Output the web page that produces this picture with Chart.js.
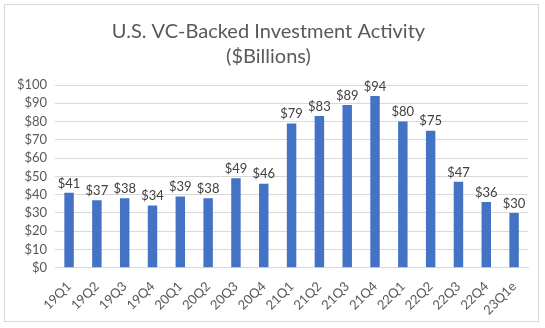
<!DOCTYPE html>
<html>
<head>
<meta charset="utf-8">
<script src="https://cdn.jsdelivr.net/npm/chart.js@4"></script>
<style>
  html, body { margin: 0; padding: 0; background: #ffffff; }
  #wrap {
    position: absolute; left: 4px; top: 4px; width: 535px; height: 318px;
    border: 1px solid #d9d9d9; box-sizing: border-box; background: #fff;
  }
  canvas { display: block; }
</style>
</head>
<body>
<div id="wrap"><canvas id="vc_chart" width="533" height="316"></canvas></div>
<script>
// quarters and totals (US$ billions)
const quarters = ['19Q1', '19Q2', '19Q3', '19Q4', '20Q1', '20Q2', '20Q3', '20Q4',
    '21Q1', '21Q2', '21Q3', '21Q4', '22Q1', '22Q2', '22Q3', '22Q4', '23Q1e'];
const investment = [41, 37, 38, 34, 39, 38, 49, 46, 79, 83, 89, 94, 80, 75, 47, 36, 30];
const titleLines = ['U.S. VC-Backed Investment Activity', '($Billions)'];

const fontName = "Lato, 'Open Sans', sans-serif";

// draws the "$41" style labels over every bar
const valueLabels = {
    id: 'valueLabels',
    afterDatasetsDraw(chart) {
        const ctx = chart.ctx;
        const meta = chart.getDatasetMeta(0);
        ctx.save();
        ctx.font = '13px ' + fontName;
        ctx.fillStyle = '#404040';
        ctx.textAlign = 'center';
        ctx.textBaseline = 'bottom';
        meta.data.forEach((bar, i) => {
            ctx.fillText('$' + investment[i], bar.x, bar.y - 3);
        });
        ctx.restore();
    }
};

new Chart(document.getElementById('vc_chart').getContext('2d'), {
    type: 'bar',
    data: {
        labels: quarters,
        datasets: [{
            label: 'Investment',
            data: investment,
            backgroundColor: '#4472c4',
            borderWidth: 0,
            barPercentage: 0.34,
            categoryPercentage: 1.0
        }]
    },
    options: {
        responsive: false,
        animation: false,
        layout: { padding: { left: 4, right: 10, top: 10, bottom: 0 } },
        plugins: {
            legend: { display: false },
            tooltip: { enabled: false },
            title: {
                display: true,
                text: titleLines,
                color: '#595959',
                font: { family: fontName, size: 20, weight: 'normal', lineHeight: 1.25 },
                padding: { top: 4, bottom: 16 }
            }
        },
        scales: {
            x: {
                grid: { display: false },
                border: { color: '#d9d9d9' },
                ticks: {
                    color: '#595959',
                    font: { family: fontName, size: 13 },
                    maxRotation: 45, minRotation: 45,
                    autoSkip: false
                }
            },
            y: {
                min: 0, max: 100,
                grid: { color: '#d9d9d9', drawTicks: false },
                border: { display: false },
                ticks: {
                    stepSize: 10,
                    autoSkip: false,
                    padding: 8,
                    color: '#595959',
                    font: { family: fontName, size: 13 },
                    callback: v => '$' + v
                }
            }
        }
    },
    plugins: [valueLabels]
});
</script>
</body>
</html>
